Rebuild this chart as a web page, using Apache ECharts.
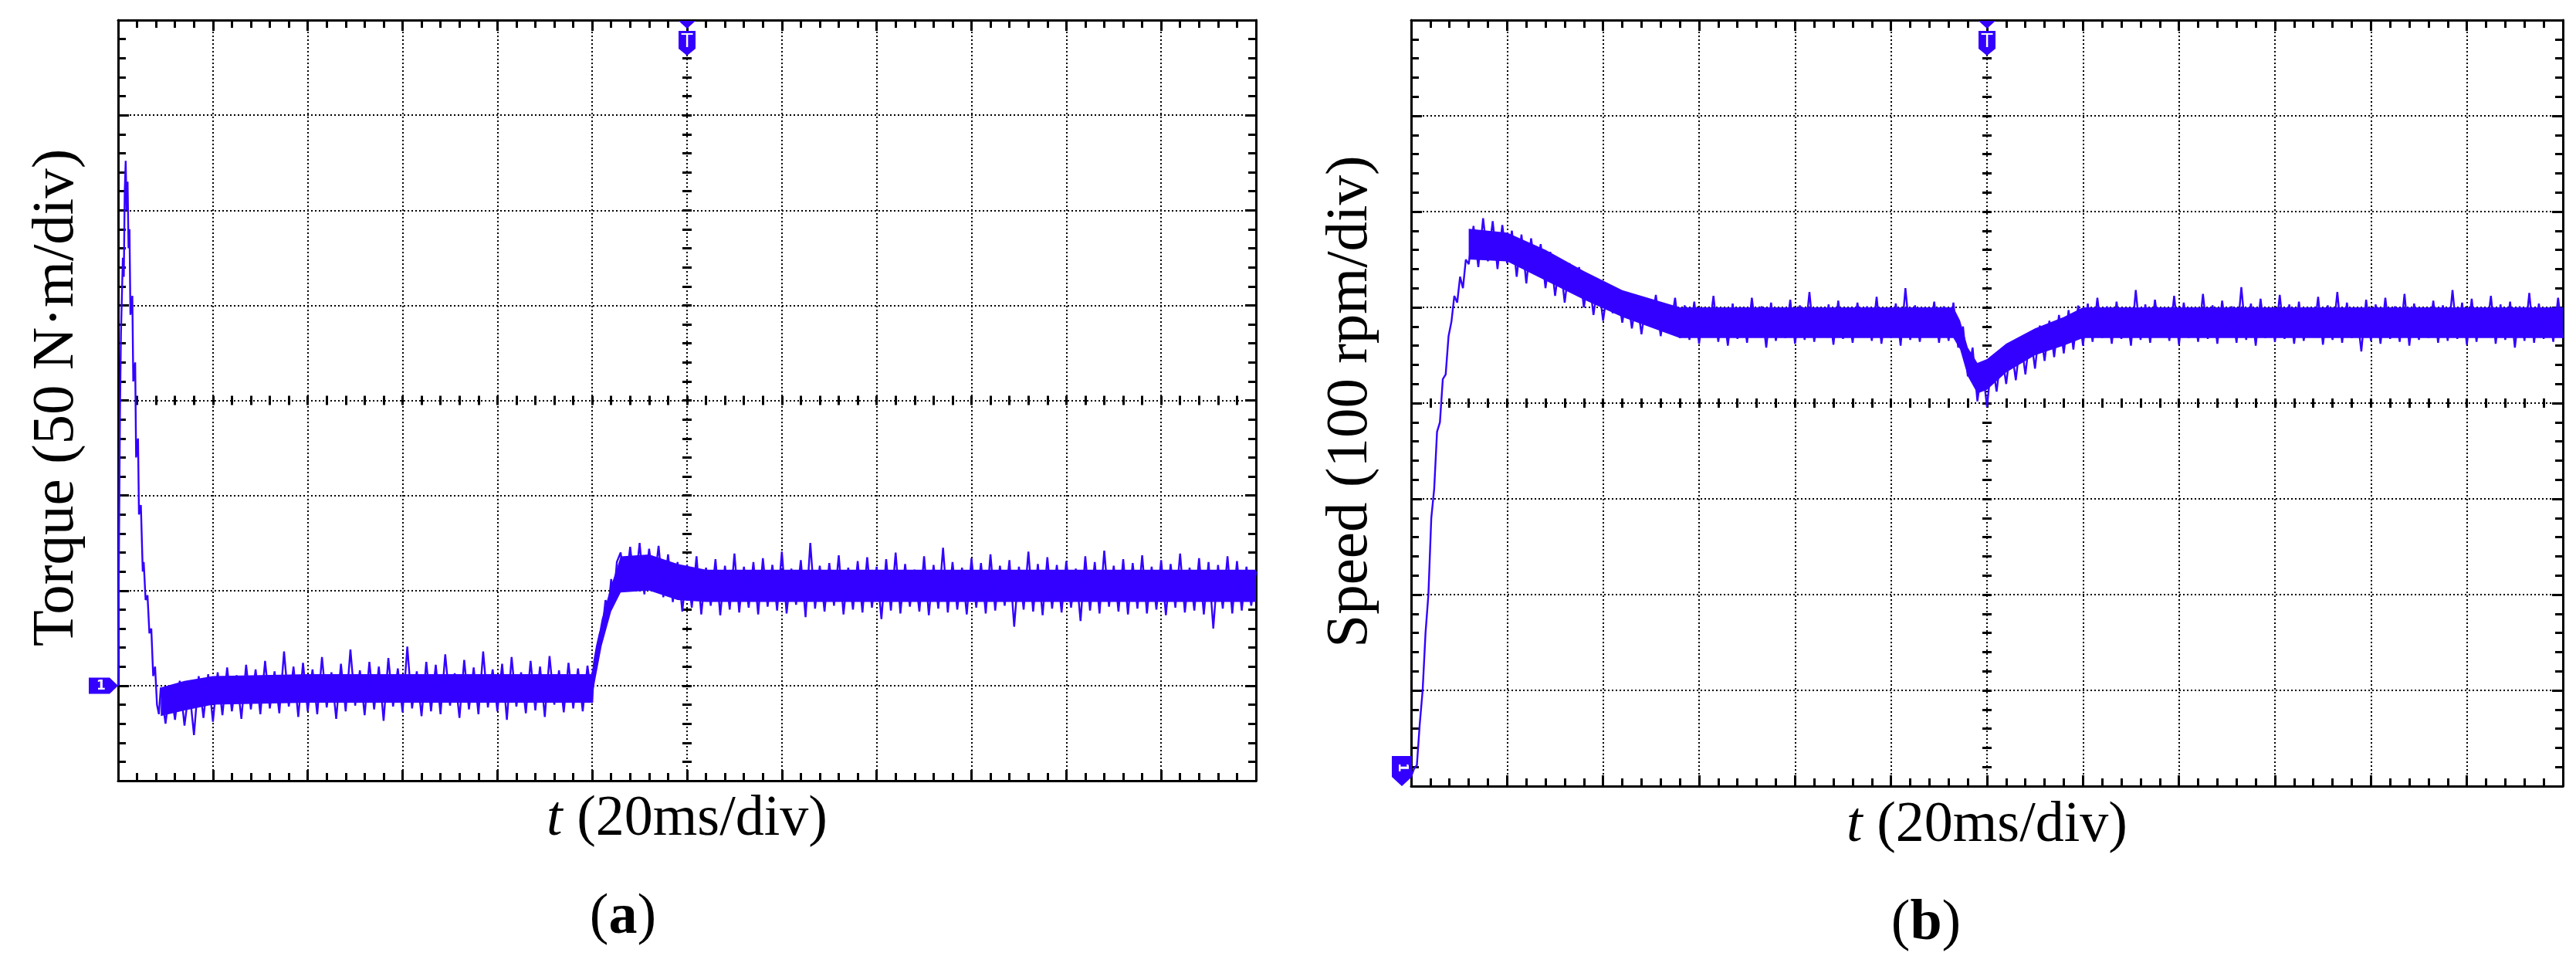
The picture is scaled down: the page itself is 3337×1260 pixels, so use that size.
<!DOCTYPE html>
<html><head><meta charset="utf-8">
<script src="https://cdn.jsdelivr.net/npm/echarts@6/dist/echarts.min.js"></script>
<style>html,body{margin:0;padding:0;background:#fff}#c{width:3337px;height:1260px}</style>
</head><body><div id="c"></div>
<script>
// ---------- axes (divisions) ----------
const timeRange = [0, 12];          // 12 horizontal divisions (20 ms/div)
const torqueRange = [-1, 7];        // ground marker at 0
const speedRange = [0, 8];          // ground marker at 0
const triggerTime = 6;

// ---------- torque (div, 50 N·m/div) ----------
const torqueStartT = [0, 0.01, 0.02, 0.03, 0.05, 0.06, 0.07, 0.08, 0.09, 0.10, 0.11, 0.12, 0.13, 0.15, 0.16, 0.18, 0.19, 0.21, 0.22, 0.24, 0.26, 0.27, 0.29, 0.31, 0.33, 0.35, 0.37, 0.39, 0.41, 0.43];
const torqueStartV = [0, 1.6, 2.9, 3.7, 4.5, 4.3, 5.2, 5.52, 5.0, 5.3, 4.6, 4.8, 3.9, 4.1, 3.2, 3.4, 2.4, 2.6, 1.8, 1.9, 1.2, 1.3, 0.9, 0.95, 0.55, 0.6, 0.1, 0.2, -0.2, -0.3];
const torqueLowT0 = 0.45, torqueStep = 0.05;
const torqueLow = [-0.02,-0.40,0.00,-0.36,0.05,-0.42,-0.02,-0.52,0.10,-0.34,0.12,-0.38,
 0.14,-0.31,0.19,-0.27,0.11,-0.35,0.22,-0.25,0.17,-0.30,0.26,-0.24,0.15,-0.29,0.36,-0.22,0.20,-0.33,
 0.24,-0.27,0.17,-0.30,0.30,-0.23,0.14,-0.35,0.23,-0.27,0.38,-0.21,0.16,-0.31,0.25,-0.25,0.20,-0.37,0.29,-0.22,
 0.18,-0.28,0.41,-0.24,0.15,-0.32,0.25,-0.27,0.22,-0.30,0.33,-0.21,0.13,-0.34,0.27,-0.25,0.19,-0.30,0.36,-0.23,
 0.17,-0.27,0.23,-0.36,0.30,-0.22,0.14,-0.29,0.26,-0.26,0.20,-0.33,0.31,-0.20,0.16,-0.28,0.24,-0.24,0.18,-0.27,0.21,-0.18];
const torqueRiseT = [5.02, 5.05, 5.08, 5.11, 5.14, 5.17, 5.20, 5.23, 5.26];
const torqueRiseV = [0.25, 0.42, 0.55, 0.62, 0.90, 0.80, 1.12, 0.95, 1.30];
const torqueHighT0 = 5.3;
const torqueHigh = [1.40,1.00,1.46,1.02,1.50,0.96,1.44,1.05,1.47,0.93,1.38,0.88,
 1.30,0.78,1.27,0.82,1.36,0.75,1.24,0.84,1.33,0.74,1.26,0.80,1.39,0.77,1.25,0.82,1.30,0.75,1.34,0.83,
 1.27,0.79,1.41,0.76,1.23,0.85,1.32,0.72,1.50,0.81,1.26,0.78,1.29,0.84,1.37,0.75,1.24,0.80,1.31,0.77,
 1.35,0.82,1.25,0.70,1.33,0.79,1.40,0.76,1.28,0.83,1.22,0.78,1.36,0.74,1.27,0.81,1.45,0.77,1.30,0.80,
 1.24,0.75,1.34,0.82,1.29,0.76,1.38,0.79,1.26,0.84,1.32,0.62,1.25,0.80,1.41,0.78,1.28,0.74,1.35,0.81,
 1.27,0.77,1.31,0.82,1.23,0.68,1.36,0.79,1.30,0.76,1.42,0.83,1.26,0.78,1.33,0.75,1.29,0.81,1.37,0.76,
 1.25,0.80,1.32,0.74,1.28,0.82,1.39,0.77,1.24,0.79,1.34,0.75,1.30,0.60,1.27,0.81,1.36,0.76,1.31,0.79,1.25,0.84,1.20];
const torqueBandT  = [0.45, 0.7, 1.0, 2.0, 3.0, 4.0, 4.99, 5.03, 5.1, 5.2, 5.3, 5.6, 5.9, 6.2, 7, 8, 9, 10, 11, 12];
const torqueBandLo = [-0.32,-0.26,-0.20,-0.18,-0.18,-0.18,-0.18, 0.05, 0.42, 0.78, 0.98, 1.00, 0.90, 0.88, 0.88, 0.88, 0.88, 0.88, 0.88, 0.88];
const torqueBandHi = [-0.02, 0.05, 0.10, 0.12, 0.12, 0.12, 0.12, 0.32, 0.70, 1.05, 1.36, 1.38, 1.28, 1.22, 1.22, 1.22, 1.22, 1.22, 1.22, 1.22];

// ---------- speed (div, 100 rpm/div) ----------
const speedStartT = [0, 0.03, 0.06, 0.09, 0.12, 0.15, 0.18, 0.21, 0.24, 0.27, 0.30, 0.33, 0.36, 0.39, 0.42, 0.45, 0.48, 0.51, 0.54, 0.57];
const speedStartV = [0.10, 0.18, 0.22, 0.65, 1.0, 1.6, 2.0, 2.8, 3.1, 3.7, 3.8, 4.25, 4.3, 4.7, 4.85, 5.12, 5.05, 5.32, 5.2, 5.5];
const speedT0 = 0.6, speedStep = 0.05;
const speedNoisy = [5.45,5.85,5.42,5.93,5.48,5.90,5.40,5.86,5.46,
 5.80,5.32,5.76,5.25,5.72,5.36,5.66,5.20,
 5.58,5.12,5.50,5.05,5.46,5.14,5.42,5.00,
 5.34,4.92,5.28,4.86,5.22,4.94,5.18,4.84,
 5.15,4.78,5.10,4.72,5.08,4.82,5.13,4.70,5.03,4.76,5.10,4.68,
 5.02,4.66,5.06,4.62,5.00,4.70,5.12,4.64,4.99,4.60,
 5.04,4.67,5.00,4.63,5.10,4.69,5.01,4.58,5.05,4.65,
 4.98,4.68,5.08,4.62,5.02,4.66,5.16,4.64,5.00,4.70,
 5.03,4.61,5.07,4.67,4.99,4.63,5.05,4.69,5.01,4.65,
 5.11,4.62,4.98,4.68,5.04,4.60,5.20,4.66,5.02,4.64,
 5.00,4.69,5.06,4.63,5.01,4.65,5.05,
 4.58,4.80,4.28,4.58,4.02,4.40,3.96,
 4.46,4.12,4.54,4.20,4.61,4.24,4.68,4.30,4.74,4.36,4.81,4.44,4.86,4.48,4.92,4.52,4.97,4.56,5.02,4.60,
 5.04,4.64,5.10,4.68,5.01,4.62,5.06,4.67,4.99,4.60,
 5.18,4.66,5.03,4.63,5.08,4.70,5.00,4.65,5.12,4.61,
 5.05,4.68,4.98,4.64,5.14,4.67,5.02,4.62,5.07,4.69,
 5.01,4.63,5.21,4.66,5.04,4.60,5.09,4.68,4.99,4.64,
 5.13,4.67,5.03,4.62,5.06,4.65,5.00,4.69,5.11,4.61,
 5.02,4.66,5.16,4.63,5.05,4.68,4.98,4.54,5.08,4.65,
 5.03,4.62,5.10,4.67,5.01,4.64,5.14,4.60,5.04,4.66,
 4.99,4.68,5.07,4.63,5.02,4.65,5.18,4.67,5.05,4.61,
 5.09,4.64,5.00,4.69,5.12,4.62,5.03,4.66,5.06,4.58,
 5.01,4.65,5.15,4.63,5.04,4.67,4.99,4.64,5.10,4.68];
const speedBandT  = [0.6, 1.0, 1.4, 1.8, 2.2, 2.8, 5.65, 5.72, 5.8, 5.9, 6.0, 6.2, 6.5, 6.8, 7.0, 12];
const speedBandLo = [5.50,5.48,5.28,5.08,4.90,4.68,4.68,4.56,4.28,4.10,4.14,4.32,4.50,4.60,4.68,4.68];
const speedBandHi = [5.82,5.78,5.60,5.38,5.18,5.00,5.00,4.86,4.58,4.42,4.46,4.62,4.78,4.90,5.00,5.00];

// ---------- text ----------
const torqueTitle = 'Torque (50 N·m/div)';
const speedTitle = 'Speed (100 rpm/div)';
const timeTitle = '{i|t} (20ms/div)';
const panelA = '({b|a})', panelB = '({b|b})';

const BLUE = '#3300ff', INK = '#000', FONT = '"Liberation Serif","Times New Roman",serif';

function pairs(ts, vs) { return ts.map((t, i) => [t, vs[i]]); }
function seq(t0, step, vs) { return vs.map((v, i) => [+(t0 + i * step).toFixed(3), v]); }

const torqueData = pairs(torqueStartT, torqueStartV)
  .concat(seq(torqueLowT0, torqueStep, torqueLow), pairs(torqueRiseT, torqueRiseV), seq(torqueHighT0, torqueStep, torqueHigh));
const speedData = pairs(speedStartT, speedStartV).concat(seq(speedT0, speedStep, speedNoisy));

const grids = [
  {left: 153, top: 26, width: 1474, height: 985},
  {left: 1828, top: 26, width: 1492, height: 992}
];

function xAx(gi, position, offset, inside, line, split, major, minor) {
  return {type: 'value', gridIndex: gi, min: timeRange[0], max: timeRange[1], interval: 1, position, offset,
    axisLine: {show: line, onZero: false, lineStyle: {color: INK, width: 3}},
    axisTick: {show: true, inside, length: major, lineStyle: {color: INK, width: 3}},
    minorTick: {show: true, splitNumber: 5, length: minor, lineStyle: {color: INK, width: 3}},
    axisLabel: {show: false},
    splitLine: {show: split, lineStyle: {color: INK, width: 2, type: [2, 3]}},
    minorSplitLine: {show: false}};
}
function yAx(gi, range, position, offset, inside, line, split, major, minor) {
  return {type: 'value', gridIndex: gi, min: range[0], max: range[1], interval: 1, position, offset,
    axisLine: {show: line, onZero: false, lineStyle: {color: INK, width: 3}},
    axisTick: {show: true, inside, length: major, lineStyle: {color: INK, width: 3}},
    minorTick: {show: true, splitNumber: 5, length: minor, lineStyle: {color: INK, width: 3}},
    axisLabel: {show: false},
    splitLine: {show: split, lineStyle: {color: INK, width: 2, type: [2, 3]}},
    minorSplitLine: {show: false}};
}

const xAxes = [], yAxes = [];
[0, 1].forEach(gi => {
  const g = grids[gi], range = gi === 0 ? torqueRange : speedRange;
  xAxes.push(xAx(gi, 'bottom', 0, true, true, true, 14, 10));
  xAxes.push(xAx(gi, 'top', 0, true, true, false, 14, 10));
  xAxes.push(xAx(gi, 'bottom', -g.height / 2, true, false, false, 6, 6));
  xAxes.push(xAx(gi, 'bottom', -g.height / 2, false, false, false, 6, 6));
  yAxes.push(yAx(gi, range, 'left', 0, true, true, true, 14, 10));
  yAxes.push(yAx(gi, range, 'right', 0, true, true, false, 14, 10));
  yAxes.push(yAx(gi, range, 'left', -g.width / 2, true, false, false, 6, 6));
  yAxes.push(yAx(gi, range, 'left', -g.width / 2, false, false, false, 6, 6));
});

function band(ai, ts, lo, hi) {
  return {type: 'custom', xAxisIndex: ai, yAxisIndex: ai, silent: true, clip: true, data: [[0, 0]], z: 3,
    renderItem: (params, api) => {
      const up = ts.map((t, i) => api.coord([t, hi[i]]));
      const dn = ts.map((t, i) => api.coord([t, lo[i]])).reverse();
      return {type: 'polygon', shape: {points: up.concat(dn)}, style: {fill: BLUE}};
    }};
}
function trace(ai, data) {
  return {type: 'line', xAxisIndex: ai, yAxisIndex: ai, data, symbol: 'none', silent: true, z: 4,
    animation: false, lineStyle: {color: BLUE, width: 2.4}};
}

const chart = echarts.init(document.getElementById('c'), null, {renderer: 'canvas'});
chart.setOption({
  animation: false,
  backgroundColor: '#fff',
  grid: grids,
  xAxis: xAxes,
  yAxis: yAxes,
  series: [
    band(0, torqueBandT, torqueBandLo, torqueBandHi),
    trace(0, torqueData),
    band(4, speedBandT, speedBandLo, speedBandHi),
    trace(4, speedData)
  ]
});

function trigger(ai, yTop) {
  const p = chart.convertToPixel({xAxisIndex: ai, yAxisIndex: ai}, [triggerTime, yTop]);
  const cx = p[0], t = p[1];
  return [
    {type: 'polygon', z: 100, shape: {points: [[cx - 11, t + 1], [cx + 11, t + 1], [cx, t + 11]]}, style: {fill: BLUE}},
    {type: 'polygon', z: 100, shape: {points: [[cx - 11, t + 14], [cx + 11, t + 14], [cx + 11, t + 37], [cx, t + 46], [cx - 11, t + 37]]}, style: {fill: BLUE}},
    {type: 'text', z: 101, x: cx, y: t + 29, style: {text: 'T', fill: '#fff', fontSize: 24, fontFamily: 'DejaVu Sans', align: 'center', verticalAlign: 'middle'}}
  ];
}
const g0 = chart.convertToPixel({xAxisIndex: 0, yAxisIndex: 0}, [0, 0]);
const g1 = chart.convertToPixel({xAxisIndex: 4, yAxisIndex: 4}, [0, 0]);
const gx = g0[0], gy = g0[1];
const bx = g1[0] - 12, by = g1[1];
const textBase = {fill: INK, fontSize: 74, fontFamily: FONT, align: 'center', verticalAlign: 'middle'};
const yTextBase = Object.assign({}, textBase, {fontSize: 77});
const rich = {i: {fontStyle: 'italic', fontSize: 74, fontFamily: FONT}, b: {fontWeight: 'bold', fontSize: 74, fontFamily: FONT}};

chart.setOption({
  graphic: [
    ...trigger(0, torqueRange[1]),
    ...trigger(4, speedRange[1]),
    {type: 'polygon', z: 100, shape: {points: [[gx - 38, gy - 10.5], [gx - 11, gy - 10.5], [gx, gy], [gx - 11, gy + 10.5], [gx - 38, gy + 10.5]]}, style: {fill: BLUE}},
    {type: 'text', z: 101, x: gx - 22, y: gy + 1, style: {text: '1', fill: '#fff', fontSize: 17, fontWeight: 'bold', fontFamily: 'DejaVu Sans', align: 'center', verticalAlign: 'middle'}},
    {type: 'polygon', z: 100, shape: {points: [[bx - 13, by - 39], [bx + 13, by - 39], [bx + 13, by - 12], [bx, by], [bx - 13, by - 12]]}, style: {fill: BLUE}},
    {type: 'text', z: 101, x: bx, y: by - 24, rotation: -Math.PI / 2, style: {text: '1', fill: '#fff', fontSize: 17, fontWeight: 'bold', fontFamily: 'DejaVu Sans', align: 'center', verticalAlign: 'middle'}},
    {type: 'text', x: 74, y: 515, rotation: Math.PI / 2, style: Object.assign({text: torqueTitle}, yTextBase)},
    {type: 'text', x: 1750, y: 520, rotation: Math.PI / 2, style: Object.assign({text: speedTitle}, yTextBase)},
    {type: 'text', x: 890, y: 1062, style: Object.assign({text: timeTitle, rich}, textBase)},
    {type: 'text', x: 2574, y: 1070, style: Object.assign({text: timeTitle, rich}, textBase)},
    {type: 'text', x: 807, y: 1189, style: Object.assign({text: panelA, rich}, textBase)},
    {type: 'text', x: 2495, y: 1197, style: Object.assign({text: panelB, rich}, textBase)}
  ]
});
</script></body></html>
